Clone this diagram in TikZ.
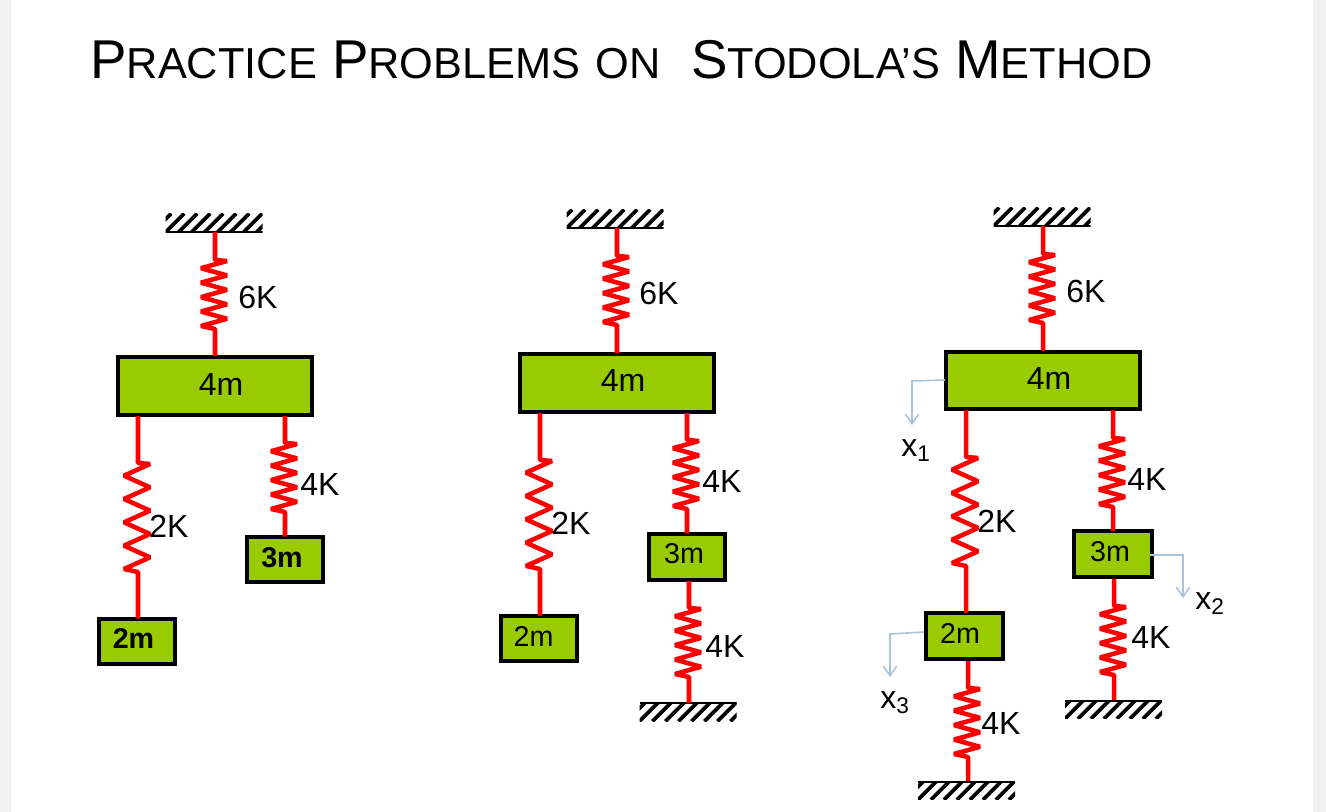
\documentclass[tikz,border=0pt]{standalone}
\usepackage{fontspec}
\setmainfont{Liberation Sans}
\usetikzlibrary{calc,arrows.meta}
\definecolor{massgreen}{HTML}{99CC00}
\definecolor{armblue}{HTML}{A9C3DB}
\newcommand{\bigC}[1]{{\fontsize{41}{41}\selectfont #1}}
\newcommand{\smlC}[1]{{\fontsize{32.5}{33}\selectfont #1}}
\newcommand{\gapC}{{\fontsize{41}{41}\selectfont\ }}
\tikzset{
  x=0.75pt,y=-0.75pt,
  mass/.style={draw=black,line width=3pt,fill=massgreen,inner sep=0pt,outer sep=0pt},
  lab/.style={inner sep=0pt,font=\fontsize{24}{24}\selectfont,anchor=center},
  smalllab/.style={inner sep=0pt,font=\fontsize{21.5}{24}\selectfont,anchor=center},
  boldlab/.style={inner sep=0pt,font=\fontsize{21.5}{24}\selectfont\bfseries,anchor=center},
  sprline/.style={draw=red,line width=3.4pt,line join=bevel},
  hatchbox/.style={minimum width=72.75pt,minimum height=14pt,inner sep=0pt,outer sep=0pt},
  groundtop/.style={hatchbox,
     path picture={
       \foreach \k in {-2,...,9}{\draw[line width=2.8pt,black]
         ([xshift=\k*9.75pt]path picture bounding box.south west) -- ++(14pt,14pt);}
       \draw[line width=2pt,black] (path picture bounding box.south west) -- (path picture bounding box.south east);
     }},
  groundbot/.style={hatchbox,
     path picture={
       \foreach \k in {-2,...,9}{\draw[line width=2.8pt,black]
         ([xshift=\k*9.75pt]path picture bounding box.south west) -- ++(14pt,14pt);}
       \draw[line width=2pt,black] (path picture bounding box.north west) -- (path picture bounding box.north east);
     }},
  arm/.style={draw=armblue,line width=1.2pt,-{Straight Barb[length=7pt,width=10pt,line width=1.2pt]}},
}
% \coilspring{from}{to}{straight lead-in}{length of the coil}
\newcommand{\coilspring}[4]{%
  \draw[sprline] (#1) -- ($(#1)+(0,#3)$)
    \foreach \k in {0,...,9}{ -- ($(#1)+({13*(1-2*mod(\k,2))-1},{#3+1+\k*(#4)/9})$) }
    -- ($(#1)+(0,{#3+(#4)+4})$) -- (#2);}
\begin{document}
\begin{tikzpicture}
\useasboundingbox (0,0) rectangle (1326,812);
\fill[white] (0,0) rectangle (1326,812);
\fill[black!6] (0,0) rectangle (11,812);
\fill[black!6] (1313,0) rectangle (1326,812);
% title
\node[anchor=base west,inner sep=0pt] (title) at (90,79) {\bigC{P}\smlC{RACTICE}\gapC\bigC{P}\smlC{ROBLEMS}\gapC\smlC{ON}\gapC\gapC\bigC{S}\smlC{TODOLA’S}\gapC\bigC{M}\smlC{ETHOD}};

% Panel 1
\node[groundtop] (g1) at (214,223) {};
\node[mass,minimum width=194pt*0.75,minimum height=57pt*0.75] (a4) at (214.5,386) {};
\node[lab] (a4t) at (221,384) {4m};
\node[mass,minimum width=76pt*0.75,minimum height=45pt*0.75] (a3) at (285,559) {};
\node[boldlab] (a3t) at (282,558) {3m};
\node[mass,minimum width=76pt*0.75,minimum height=45pt*0.75] (a2) at (137,641) {};
\node[boldlab] (a2t) at (133.5,638) {2m};
\coordinate (a4l) at (138,416); \coordinate (a4r) at (285,416);
\coordinate (g1s) at (215,232); \coordinate (a4i) at (215,356);
\coilspring{g1s}{a4i}{28}{65}
\coilspring{a4l}{a2.north -| a4l}{47}{105}
\coilspring{a4r}{a3.north}{27}{65}
\node[lab] (la) at (258,297) {6K};
\node[lab] (lb) at (320,484) {4K};
\node[lab] (lc) at (169,526) {2K};

% Panel 2
\node[groundtop] (g2) at (615,219) {};
\node[mass,minimum width=194pt*0.75,minimum height=57pt*0.75] (b4) at (616.5,383) {};
\node[lab] (b4t) at (623,380) {4m};
\node[mass,minimum width=76pt*0.75,minimum height=46pt*0.75] (b3) at (687,556.5) {};
\node[smalllab] (b3t) at (684,554) {3m};
\node[mass,minimum width=76pt*0.75,minimum height=45pt*0.75] (b2) at (538.5,638) {};
\node[smalllab] (b2t) at (533.5,636) {2m};
\node[groundbot] (g2b) at (688,712) {};
\coordinate (b4l) at (540,413); \coordinate (b4r) at (687,413);
\coordinate (g2s) at (617,228); \coordinate (b4i) at (617,353);
\coordinate (b3s) at (689,581); \coordinate (g2bn) at (689,703);
\coilspring{g2s}{b4i}{28}{65}
\coilspring{b4l}{b2.north -| b4l}{47}{105}
\coilspring{b4r}{b3.north}{27}{65}
\coilspring{b3s}{g2bn}{27}{65}
\node[lab] (ld) at (659,293) {6K};
\node[lab] (le) at (722,481) {4K};
\node[lab] (lf) at (571,523) {2K};
\node[lab] (lg) at (725,646) {4K};

% Panel 3
\node[groundtop] (g3) at (1042,217) {};
\node[mass,minimum width=194pt*0.75,minimum height=56pt*0.75] (c4) at (1042.5,380.5) {};
\node[lab] (c4t) at (1049,378) {4m};
\node[mass,minimum width=78pt*0.75,minimum height=46pt*0.75] (c3) at (1113,554) {};
\node[smalllab] (c3t) at (1110,552) {3m};
\node[mass,minimum width=77pt*0.75,minimum height=46pt*0.75] (c2) at (964.5,636) {};
\node[smalllab] (c2t) at (960,633) {2m};
\node[groundbot] (g3b) at (1113.5,709.5) {};
\node[groundbot] (g3c) at (966.5,790.5) {};
\coordinate (c4l) at (966,410); \coordinate (c4r) at (1113,410);
\coordinate (g3s) at (1043,226); \coordinate (c4i) at (1043,351);
\coordinate (c3s) at (1114,579); \coordinate (g3bn) at (1114,700);
\coordinate (c2s) at (968,661); \coordinate (g3cn) at (968,781);
\coilspring{g3s}{c4i}{28}{65}
\coilspring{c4l}{c2.north -| c4l}{47}{105}
\coilspring{c4r}{c3.north}{28}{65}
\coilspring{c3s}{g3bn}{27}{65}
\coilspring{c2s}{g3cn}{27}{65}
\node[lab] (lh) at (1086,291) {6K};
\node[lab] (li) at (1147,479) {4K};
\node[lab] (lj) at (997,521) {2K};
\node[lab] (lk) at (1151,637) {4K};
\node[lab] (ll) at (1001,723) {4K};

% Displacement arrows
\coordinate (x1a) at (912,381); \coordinate (x1b) at (912,425);
\coordinate (x2a) at (1183,555); \coordinate (x2b) at (1183,598);
\coordinate (x3a) at (890,634); \coordinate (x3b) at (890,677);
\coordinate (x1s) at (945,380); \coordinate (x2s) at (1150,555); \coordinate (x3s) at (924,632);
\draw[arm] (x1s) -- (x1a) -- (x1b);
\draw[arm] (x2s) -- (x2a) -- (x2b);
\draw[arm] (x3s) -- (x3a) -- (x3b);
\node[lab] (x1) at (916,451) {x$_{\fontsize{17}{17}\selectfont\textrm{1}}$};
\node[lab] (x2) at (1210,604) {x$_{\fontsize{17}{17}\selectfont\textrm{2}}$};
\node[lab] (x3) at (895,703) {x$_{\fontsize{17}{17}\selectfont\textrm{3}}$};
\end{tikzpicture}
\end{document}
